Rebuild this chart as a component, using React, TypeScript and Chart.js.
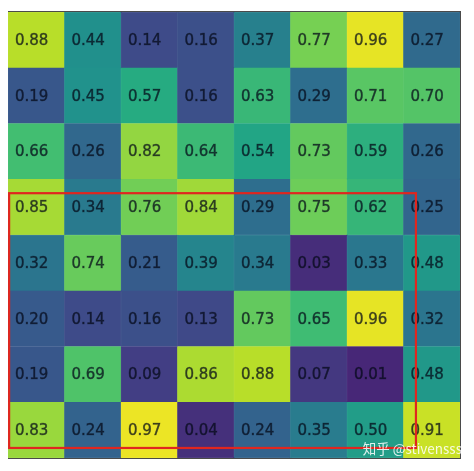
import React, { useEffect, useRef } from "react";
import { Chart, registerables } from "chart.js";

Chart.register(...registerables);

const columns = ["C1", "C2", "C3", "C4", "C5", "C6", "C7", "C8"];
const row1 = [0.88, 0.44, 0.14, 0.16, 0.37, 0.77, 0.96, 0.27];
const row2 = [0.19, 0.45, 0.57, 0.16, 0.63, 0.29, 0.71, 0.7];
const row3 = [0.66, 0.26, 0.82, 0.64, 0.54, 0.73, 0.59, 0.26];
const row4 = [0.85, 0.34, 0.76, 0.84, 0.29, 0.75, 0.62, 0.25];
const row5 = [0.32, 0.74, 0.21, 0.39, 0.34, 0.03, 0.33, 0.48];
const row6 = [0.2, 0.14, 0.16, 0.13, 0.73, 0.65, 0.96, 0.32];
const row7 = [0.19, 0.69, 0.09, 0.86, 0.88, 0.07, 0.01, 0.48];
const row8 = [0.83, 0.24, 0.97, 0.04, 0.24, 0.35, 0.5, 0.91];
const rowsTopToBottom = [row1, row2, row3, row4, row5, row6, row7, row8];
const watermark = "知乎 @stivensss";

// viridis colour stops (style only)
const VIRIDIS = [
  [68, 1, 84],
  [72, 36, 117],
  [65, 68, 135],
  [53, 95, 141],
  [42, 120, 142],
  [33, 145, 140],
  [34, 168, 132],
  [68, 191, 112],
  [122, 209, 81],
  [189, 223, 38],
  [253, 231, 37],
];

function viridis(v: number): string {
  const s = 0.1 + 0.9 * v; // photo's compressed low end
  const t = Math.max(0, Math.min(1, s)) * (VIRIDIS.length - 1);
  const i = Math.min(VIRIDIS.length - 2, Math.floor(t));
  const f = t - i;
  const a = VIRIDIS[i];
  const b = VIRIDIS[i + 1];
  const c = a.map((x, k) => Math.round(x + (b[k] - x) * f));
  return `rgb(${c[0]},${c[1]},${c[2]})`;
}

const overlayPlugin = {
  id: "heatOverlay",
  afterDatasetsDraw(chart: any) {
    const ctx = chart.ctx;
    const area = chart.chartArea;
    ctx.save();
    // value labels
    ctx.font = "15px 'DejaVu Sans'";
    ctx.fillStyle = "rgba(5,10,25,0.72)";
    ctx.strokeStyle = "rgba(5,10,25,0.45)";
    ctx.lineWidth = 0.6;
    ctx.textAlign = "left";
    ctx.textBaseline = "middle";
    chart.data.datasets.forEach((ds: any, di: number) => {
      const meta = chart.getDatasetMeta(di);
      meta.data.forEach((el: any, ci: number) => {
        const p = el.getProps(["x", "y", "base", "width"], true);
        const txt = ds.values[ci].toFixed(2);
        const tx = p.x - p.width / 2 + 7;
        const ty = (p.y + p.base) / 2 + 1;
        ctx.fillText(txt, tx, ty);
        ctx.strokeText(txt, tx, ty);
      });
    });
    // frame
    ctx.strokeStyle = "#4a4a4a";
    ctx.lineWidth = 1;
    ctx.strokeRect(area.left - 0.5, area.top - 0.5, area.right - area.left + 1, area.bottom - area.top + 1);
    // red highlight box
    const w = area.right - area.left;
    const h = area.bottom - area.top;
    const x0 = area.left + w * (0.02 / 8);
    const x1 = area.left + w * (7.22 / 8);
    const y0 = area.top + h * (3.25 / 8);
    const y1 = area.top + h * (7.82 / 8);
    ctx.strokeStyle = "#e0261f";
    ctx.lineWidth = 2.2;
    ctx.strokeRect(x0, y0, x1 - x0, y1 - y0);
    // watermark (bottom-right corner of the plot)
    ctx.font = "13.5px 'Noto Sans CJK SC'";
    ctx.fillStyle = "rgba(255,255,255,0.85)";
    ctx.textAlign = "right";
    ctx.textBaseline = "middle";
    ctx.fillText(watermark, area.right + 2, area.bottom - 9);
    ctx.restore();
  },
};

export default function App() {
  const ref = useRef<HTMLCanvasElement | null>(null);
  useEffect(() => {
    if (!ref.current) return;
    const bottomFirst = [...rowsTopToBottom].reverse();
    const chart = new Chart(ref.current, {
      type: "bar",
      data: {
        labels: columns,
        datasets: bottomFirst.map((row, i) => ({
          label: `row${8 - i}`,
          data: columns.map(() => 1),
          values: row,
          backgroundColor: row.map(viridis),
          borderColor: row.map(viridis),
          borderWidth: 0.5,
          borderSkipped: false,
          barPercentage: 1,
          categoryPercentage: 1,
        })) as any,
      },
      options: {
        animation: false,
        responsive: true,
        maintainAspectRatio: false,
        layout: { padding: { top: 4, left: 0, right: 6, bottom: 5 } },
        plugins: { legend: { display: false }, tooltip: { enabled: false } },
        scales: {
          x: { stacked: true, display: false, offset: true, grid: { display: false } },
          y: { stacked: true, display: false, min: 0, max: 8, grid: { display: false } },
        },
      },
      plugins: [overlayPlugin],
    });
    return () => chart.destroy();
  }, []);
  return (
    <div style={{ width: 458, height: 455, position: "relative" }}>
      <canvas ref={ref} />
    </div>
  );
}
